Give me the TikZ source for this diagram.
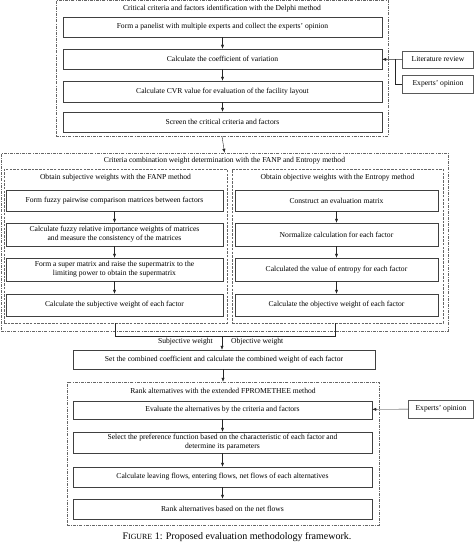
\documentclass[tikz,border=0pt]{standalone}
\usepackage{fontspec}
\setmainfont{Liberation Serif}
\usepackage{tikz}
\usepackage{xcolor}
\usetikzlibrary{arrows.meta}
\tikzset{
    stepbox/.style = {draw=black!75, fill=white, thin, rectangle, align=center, inner sep=1pt, font=\fontsize{7.6}{9}\selectfont},
    sidebox/.style = {draw=black!65, fill=white, thin, rectangle, align=center, inner sep=1pt, font=\fontsize{7.6}{9}\selectfont},
    phase-frame/.style = {draw=black!60, rectangle, thin, dash pattern=on 3pt off 1.2pt on 0.8pt off 1.2pt},
    sub-frame/.style = {draw=black!60, rectangle, thin, dash pattern=on 2.5pt off 1.2pt},
    frame-title/.style = {font=\fontsize{7.6}{9}\selectfont, inner sep=1pt},
    flow/.style = {draw=black!85, thin, -{Latex[length=4pt,width=3.2pt]}},
    link/.style = {draw=black!85, thin},
}

\begin{document}
\begin{tikzpicture}[x=1pt, y=-1pt]
\useasboundingbox (0,0) rectangle (474,543);
% Delphi phase
\node [phase-frame, minimum width=332pt, minimum height=135.5pt] (delphi) at (222,68.25) {};
\node [frame-title] (delphi-title) at (222,9) {Critical criteria and factors identification with the Delphi method};
\node [stepbox, minimum width=319pt, minimum height=20pt] (panel) at (222.5,27) {Form a panelist with multiple experts and collect the experts' opinion};
\node [stepbox, minimum width=319pt, minimum height=20pt] (cv) at (222.5,59) {Calculate the coefficient of variation};
\node [stepbox, minimum width=319pt, minimum height=21pt] (cvr) at (222.5,91.5) {Calculate CVR value for evaluation of the facility layout};
\node [stepbox, minimum width=319pt, minimum height=20pt] (screen) at (222.5,122) {Screen the critical criteria and factors};
\node [sidebox, minimum width=71pt, minimum height=17pt] (lit) at (438,59.5) {Literature review};
\node [sidebox, minimum width=71pt, minimum height=18pt] (exp-a) at (438,84) {Experts' opinion};
\coordinate (lit-join) at (395,59.5);

% FANP and Entropy phase
\node [phase-frame, minimum width=447pt, minimum height=178pt] (weight) at (224.5,242) {};
\node [frame-title] (weight-title) at (224.5,161) {Criteria combination weight determination with the FANP and Entropy method};
\node [sub-frame, minimum width=223pt, minimum height=154pt] (fanp) at (115.5,246) {};
\node [sub-frame, minimum width=211pt, minimum height=154pt] (entropy) at (337.5,246) {};
\node [frame-title] (fanp-title) at (115.5,178) {Obtain subjective weights with the FANP method};
\node [frame-title] (entropy-title) at (337.5,178) {Obtain objective weights with the Entropy method};
\node [stepbox, minimum width=217pt, minimum height=21pt] (fanp-a) at (114.5,200.5) {Form fuzzy pairwise comparison matrices between factors};
\node [stepbox, minimum width=217pt, minimum height=23pt] (fanp-b) at (114.5,234.5) {Calculate fuzzy relative importance weights of matrices\\and measure the consistency of the matrices};
\node [stepbox, minimum width=217pt, minimum height=23pt] (fanp-c) at (114.5,269.5) {Form a super matrix and raise the supermatrix to the\\limiting power to obtain the supermatrix};
\node [stepbox, minimum width=217pt, minimum height=22pt] (fanp-d) at (114.5,305) {Calculate the subjective weight of each factor};
\node [stepbox, minimum width=203pt, minimum height=21pt] (ent-a) at (336.5,200.5) {Construct an evaluation matrix};
\node [stepbox, minimum width=203pt, minimum height=23pt] (ent-b) at (336.5,234.5) {Normalize calculation for each factor};
\node [stepbox, minimum width=203pt, minimum height=23pt] (ent-c) at (336.5,269.5) {Calculated the value of entropy for each factor};
\node [stepbox, minimum width=203pt, minimum height=22pt] (ent-d) at (336.5,305) {Calculate the objective weight of each factor};
\coordinate (merge-l) at (115,336);
\coordinate (merge-r) at (335,336);
\coordinate (merge) at (222,336);

% combined weight
\node [stepbox, minimum width=302pt, minimum height=19pt] (combine) at (224,359.5) {Set the combined coefficient and calculate the combined weight of each factor};
\node [frame-title, anchor=east] (subj-label) at (214,342) {Subjective weight};
\node [frame-title, anchor=west] (obj-label) at (230,342) {Objective weight};

% FPROMETHEE phase
\node [phase-frame, minimum width=312pt, minimum height=143pt] (rank) at (223,453.5) {};
\node [frame-title] (rank-title) at (223,391) {Rank alternatives with the extended FPROMETHEE method};
\node [stepbox, minimum width=299pt, minimum height=18pt] (eval) at (222.5,410) {Evaluate the alternatives by the criteria and factors};
\node [stepbox, minimum width=299pt, minimum height=21pt] (pref) at (222.5,442.5) {Select the preference function based on the characteristic of each factor and\\determine its parameters};
\node [stepbox, minimum width=299pt, minimum height=20pt] (flows) at (222.5,477) {Calculate leaving flows, entering flows, net flows of each alternatives};
\node [stepbox, minimum width=299pt, minimum height=20pt] (final) at (222.5,509) {Rank alternatives based on the net flows};
\node [sidebox, minimum width=65pt, minimum height=18pt] (exp-b) at (441,409) {Experts' opinion};

\node [font=\fontsize{10}{12}\selectfont, inner sep=1pt] (caption) at (237,537) {F{\fontsize{7.9}{9}\selectfont IGURE} 1: Proposed evaluation methodology framework.};

% connectors
\draw [flow] (panel) -- (cv);
\draw [flow] (cv) -- (cvr);
\draw [flow] (cvr) -- (screen);
\draw [flow] (lit) -- (cv);
\draw [link] (exp-a.west) -| (lit-join);
\draw [flow] (delphi.south) -- (weight.north);
\draw [flow] (fanp-a) -- (fanp-b);
\draw [flow] (fanp-b) -- (fanp-c);
\draw [flow] (fanp-c) -- (fanp-d);
\draw [flow] (ent-a) -- (ent-b);
\draw [flow] (ent-b) -- (ent-c);
\draw [flow] (ent-c) -- (ent-d);
\draw [link] (fanp.south -| merge-l) -- (merge-l) -- (merge-r) -- (entropy.south -| merge-r);
\draw [flow] (merge) -- (combine.north -| merge);
\draw [flow] (combine.south -| rank.north) -- (rank.north);
\draw [flow] (eval) -- (pref);
\draw [flow] (pref) -- (flows);
\draw [flow] (flows) -- (final);
\draw [flow] (exp-b) -- (eval);
\end{tikzpicture}
\end{document}
